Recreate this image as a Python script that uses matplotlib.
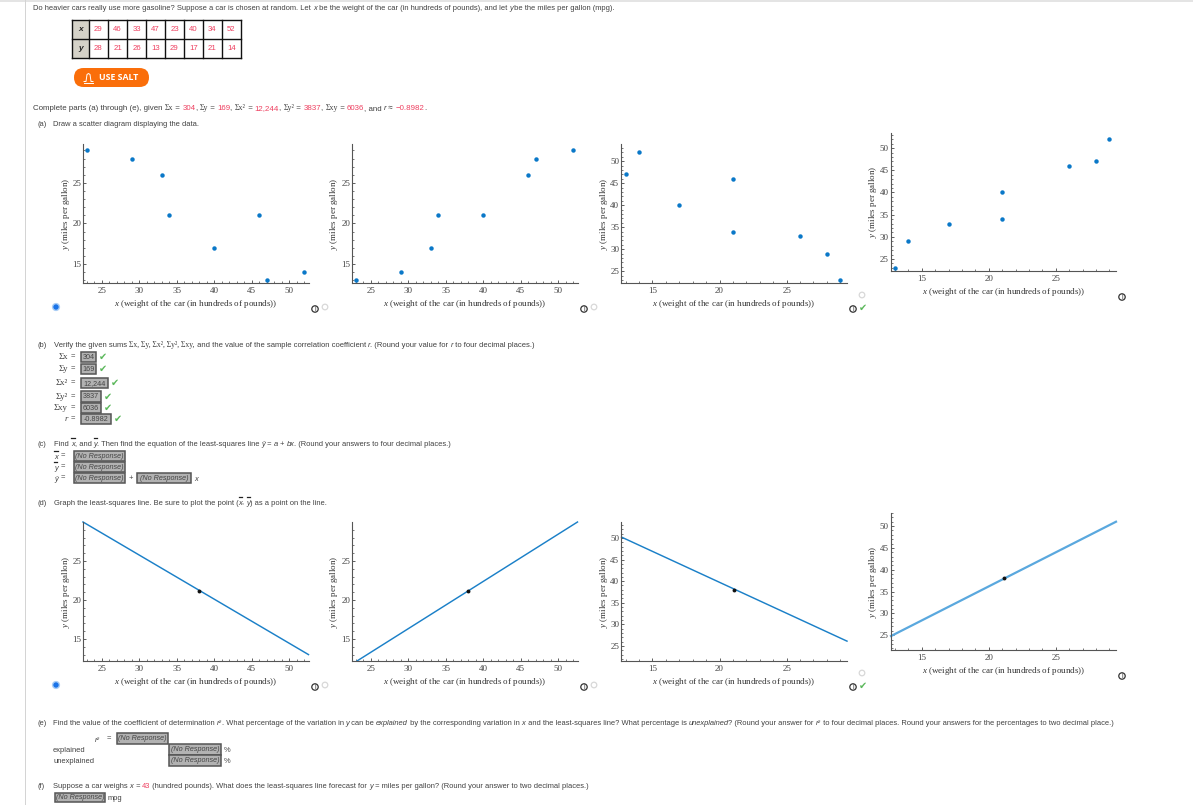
import matplotlib
matplotlib.use("Agg")
import matplotlib.pyplot as plt
from matplotlib.patches import Circle, FancyBboxPatch, Rectangle
from matplotlib.ticker import MultipleLocator

plt.rcParams["font.family"] = ["Liberation Sans", "DejaVu Sans"]
plt.rcParams["mathtext.fontset"] = "custom"
plt.rcParams["mathtext.rm"] = "Liberation Serif"
plt.rcParams["mathtext.it"] = "Liberation Serif:italic"

# data
table_x = [29, 46, 33, 47, 23, 40, 34, 52]
table_y = [28, 21, 26, 13, 29, 17, 21, 14]

scatter1_x = [29, 46, 33, 47, 23, 40, 34, 52]
scatter1_y = [28, 21, 26, 13, 29, 17, 21, 14]
scatter2_x = [29, 33, 34, 40, 46, 47, 23, 52]
scatter2_y = [14, 17, 21, 21, 26, 28, 13, 29]
scatter3_x = [13, 14, 17, 21, 21, 26, 28, 29]
scatter3_y = [47, 52, 40, 46, 34, 33, 29, 23]
scatter4_x = [13, 14, 17, 21, 21, 26, 28, 29]
scatter4_y = [23, 29, 33, 34, 40, 46, 47, 52]

line1_x = [22.5, 52.6]
line1_y = [29.99, 13.0]
line2_x = [23.2, 52.6]
line2_y = [12.2, 29.99]
line3_x = [12.7, 29.5]
line3_y = [50.2, 26.1]
line4_x = [12.7, 29.5]
line4_y = [24.8, 51.0]
mean_wt = 38.0
mean_mpg = 21.1

W, H = 1193, 805
TEXT = "#404040"
RED = "#ee4060"
BLUE = "#0a78c8"
GREEN = "#5cb85c"
BODY = 5.37
XLABEL = r"$\mathit{x}$ (weight of the car (in hundreds of pounds))"
YLABEL = r"$\mathit{y}$ (miles per gallon)"

fig = plt.figure(figsize=(W / 100, H / 100), dpi=100, facecolor="white")
page = fig.add_axes([0, 0, 1, 1])
page.set_xlim(0, W)
page.set_ylim(H, 0)
page.axis("off")
renderer = fig.canvas.get_renderer()

STYLES = {
    "n": dict(color=TEXT),
    "i": dict(color=TEXT, style="italic"),
    "r": dict(color=RED),
    "s": dict(color=TEXT, family="Liberation Serif"),
}


def text_width(s, size, st):
    t = page.text(0, 0, s + ".", fontsize=size, **st)
    d = page.text(0, 0, ".", fontsize=size, **st)
    w = t.get_window_extent(renderer).width - d.get_window_extent(renderer).width
    t.remove()
    d.remove()
    return w


def rich(x, y, parts, size=BODY):
    for s, kind in parts:
        bar = kind == "b"
        st = STYLES["i"] if bar else STYLES[kind]
        page.text(x, y + 2.5, s, fontsize=size, va="baseline", **st)
        w = text_width(s, size, st)
        if bar:
            page.plot([x, x + w], [y - 5, y - 5], color="#222222", lw=0.9)
        x += w


def answer_box(x0, x1, y0, y1, s, italic=False):
    page.add_patch(Rectangle((x0, y0), x1 - x0, y1 - y0, fc="#b2b2b2", ec="#555555", lw=1.1))
    page.text((x0 + x1) / 2, (y0 + y1) / 2 + 0.3, s, fontsize=5.2, color="#444444",
              ha="center", va="center", style="italic" if italic else "normal")


def check(x, y):
    page.text(x, y, "\u2714", fontsize=7, color=GREEN, ha="center", va="center", family="DejaVu Sans")


def info(x, y):
    page.add_patch(Circle((x, y), 3.2, fc="white", ec="#333333", lw=0.9))
    page.text(x, y + 0.3, "i", fontsize=4.8, color="#333333", ha="center", va="center")


def radio(x, y, selected=False):
    if selected:
        page.add_patch(Circle((x, y), 3.4, fc="#1a73e8", ec="#a9cdf5", lw=1.0))
    else:
        page.add_patch(Circle((x, y), 2.8, fc="white", ec="#d8d8d8", lw=0.9))


def panel(left, right, top, bottom, xlim, ylim):
    ax = fig.add_axes([left / W, 1 - bottom / H, (right - left) / W, (bottom - top) / H])
    ax.patch.set_alpha(0)
    ax.set_xlim(xlim)
    ax.set_ylim(ylim)
    ax.spines["top"].set_visible(False)
    ax.spines["right"].set_visible(False)
    for side in ["left", "bottom"]:
        ax.spines[side].set_color("#555555")
        ax.spines[side].set_linewidth(0.8)
    ax.xaxis.set_major_locator(MultipleLocator(5))
    ax.xaxis.set_minor_locator(MultipleLocator(1))
    ax.yaxis.set_major_locator(MultipleLocator(5))
    ax.yaxis.set_minor_locator(MultipleLocator(1))
    ax.tick_params(which="major", direction="in", length=2.4, width=0.6, color="#444444",
                   labelsize=6.5, labelcolor="#444444", pad=3)
    ax.tick_params(axis="y", which="major", pad=1.2)
    ax.tick_params(which="minor", direction="in", length=1.2, width=0.5, color="#444444")
    for lab in ax.get_xticklabels() + ax.get_yticklabels():
        lab.set_family("Liberation Serif")
    ax.set_xlabel(XLABEL, fontsize=6.5, color="#333333", family="Liberation Serif")
    ax.set_ylabel(YLABEL, fontsize=6.5, color="#333333", family="Liberation Serif")
    ax.xaxis.set_label_coords(0.5, -15.0 / (bottom - top))
    ax.yaxis.set_label_coords(-11.5 / (right - left), 0.5)
    return ax


def scatter_panel(left, right, top, bottom, xlim, ylim, xs, ys):
    ax = panel(left, right, top, bottom, xlim, ylim)
    ax.plot(xs, ys, "o", color=BLUE, ms=3.2, mew=0, clip_on=False)


def line_panel(left, right, top, bottom, xlim, ylim, xs, ys, mx, my, color="#1b80c8", lw=1.05):
    ax = panel(left, right, top, bottom, xlim, ylim)
    ax.plot(xs, ys, color=color, lw=lw, clip_on=False)
    ax.plot([mx], [my], "o", color="#111111", ms=2.8, mew=0)


# page frame
page.add_patch(Rectangle((0, 0), W, 2, fc="#e4e4e4", ec="none"))
page.add_patch(Rectangle((24.5, 0), 1.2, H, fc="#d4d4d4", ec="none"))

# intro
rich(33, 7, [("Do heavier cars really use more gasoline? Suppose a car is chosen at random. Let ", "n"), ("x", "i"),
             (" be the weight of the car (in hundreds of pounds), and let ", "n"), ("y", "i"),
             (" be the miles per gallon (mpg).", "n")])

# data table
col_edges = [72, 89, 108, 127, 146, 165, 184, 203, 222, 241]
row_edges = [20, 39, 58]
page.add_patch(Rectangle((72, 20), 17, 38, fc="#d5d2c8", ec="none"))
for e in col_edges:
    page.plot([e, e], [20, 58], color="#111111", lw=1.0)
for e in row_edges:
    page.plot([72, 241], [e, e], color="#111111", lw=1.0)
for r, (name, vals) in enumerate([("x", table_x), ("y", table_y)]):
    yc = (row_edges[r] + row_edges[r + 1]) / 2
    page.text(80.5, yc, name, fontsize=6, color="#222222", style="italic", weight="bold", ha="center", va="center")
    for c, v in enumerate(vals):
        page.text((col_edges[c + 1] + col_edges[c + 2]) / 2, yc, str(v), fontsize=5.6, color=RED,
                  ha="center", va="center")

# salt button
page.add_patch(FancyBboxPatch((74, 68), 75, 19, boxstyle="round,pad=0,rounding_size=9.5",
                              fc="#fa6e0a", ec="none"))
page.plot([84, 86, 87, 88.5, 90, 91, 93], [81.5, 81.5, 74.5, 73.5, 74.5, 81.5, 81.5], color="white", lw=0.7)
page.plot([84, 93], [83, 83], color="white", lw=0.7)
page.text(99, 78, "USE SALT", fontsize=6.3, color="white", weight="bold", va="center", family="Open Sans")

rich(33, 108, [("Complete parts (a) through (e), given ", "n"), ("\u03a3x", "s"), (" = ", "n"), ("304", "r"),
               (", ", "n"), ("\u03a3y", "s"), (" = ", "n"), ("169", "r"), (", ", "n"), ("\u03a3x\u00b2", "s"),
               (" = ", "n"), ("12,244", "r"), (", ", "n"), ("\u03a3y\u00b2", "s"), (" = ", "n"), ("3837", "r"),
               (", ", "n"), ("\u03a3xy", "s"), (" = ", "n"), ("6036", "r"), (", and ", "n"), ("r", "i"),
               (" \u2248 ", "n"), ("\u22120.8982", "r"), (".", "n")], size=5.65)
rich(37, 124, [("(a)", "n")])
rich(53, 124, [("Draw a scatter diagram displaying the data.", "n")])

# part (a) graphs
scatter_panel(83, 308.5, 144, 283, (22.5, 52.6), (12.65, 29.8), scatter1_x, scatter1_y)
scatter_panel(352, 577.5, 144, 283, (22.5, 52.6), (12.65, 29.8), scatter2_x, scatter2_y)
scatter_panel(621, 847, 144, 283, (12.66, 29.5), (22.3, 53.9), scatter3_x, scatter3_y)
scatter_panel(890.5, 1116, 133, 271, (12.66, 29.5), (22.3, 53.4), scatter4_x, scatter4_y)

radio(56, 307, True)
radio(325, 307)
radio(594, 307)
radio(862, 295)
info(315, 309)
info(584, 309)
info(853, 309)
info(1122, 297)
check(863, 308)

# part (b)
rich(37, 344, [("(b)", "n")])
rich(54, 344, [("Verify the given sums ", "n"), ("\u03a3x, \u03a3y, \u03a3x\u00b2, \u03a3y\u00b2, \u03a3xy,", "s"),
               (" and the value of the sample correlation coefficient ", "n"), ("r", "i"),
               (". (Round your value for ", "n"), ("r", "i"), (" to four decimal places.)", "n")], size=5.5)
sum_labels = ["\u03a3x", "\u03a3y", "\u03a3x\u00b2", "\u03a3y\u00b2", "\u03a3xy", "r"]
sum_values = ["304", "169", "12,244", "3837", "6036", "-0.8982"]
sum_rights = [96, 96, 108, 100.5, 100.5, 111]
sum_tops = [352, 364, 378, 391, 403, 414]
sum_bots = [362, 374, 388, 402, 413, 424]
for lab, val, r, t, b in zip(sum_labels, sum_values, sum_rights, sum_tops, sum_bots):
    yc = (t + b) / 2
    page.text(68, yc, lab, fontsize=6.3, color=TEXT, ha="right", va="center", family="Liberation Serif",
              style="italic" if lab == "r" else "normal")
    page.text(73, yc, "=", fontsize=5.5, color=TEXT, ha="center", va="center")
    answer_box(81, r, t, b, val)
    check(r + 7, yc)

# part (c)
rich(37, 443, [("(c)", "n")])
rich(54, 443, [("Find ", "n"), ("x", "b"), (", and ", "n"), ("y", "b"),
               (". Then find the equation of the least-squares line ", "n"), ("\u0177", "i"), (" = ", "n"), ("a", "i"),
               (" + ", "n"), ("bx", "i"), (". (Round your answers to four decimal places.)", "n")])
rich(54, 456, [("x", "b")])
rich(54, 467, [("y", "b")])
rich(54, 478, [("\u0177", "i")])
for yc in [456, 467, 478]:
    page.text(63, yc, "=", fontsize=5.5, color=TEXT, ha="center", va="center")
answer_box(73.5, 125, 451, 461, "(No Response)", True)
answer_box(73.5, 125, 462, 472, "(No Response)", True)
answer_box(73.5, 125, 473, 483, "(No Response)", True)
page.text(131, 478, "+", fontsize=5.5, color=TEXT, ha="center", va="center")
answer_box(137, 191, 473, 483, "(No Response)", True)
rich(194, 478, [("x", "i")])

# part (d)
rich(37, 502, [("(d)", "n")])
rich(54, 502, [("Graph the least-squares line. Be sure to plot the point (", "n"), ("x", "b"), (", ", "n"), ("y", "b"),
               (") as a point on the line.", "n")])

line_panel(83, 308.5, 522, 661, (22.5, 52.6), (12.18, 29.99), line1_x, line1_y, mean_wt, mean_mpg)
line_panel(352, 577.5, 522, 661, (22.5, 52.6), (12.18, 29.99), line2_x, line2_y, mean_wt, mean_mpg)
line_panel(621, 847, 522, 661, (12.66, 29.5), (21.5, 53.7), line3_x, line3_y, mean_mpg, mean_wt)
line_panel(890.5, 1116, 513, 650, (12.66, 29.5), (21.6, 53.0), line4_x, line4_y, mean_mpg, mean_wt,
           color="#5aa8de", lw=1.6)

radio(56, 685, True)
radio(325, 685)
radio(594, 685)
radio(862, 673)
info(315, 687)
info(584, 687)
info(853, 687)
info(1122, 676)
check(863, 686)

# part (e)
rich(37, 722, [("(e)", "n")])
rich(53, 722, [("Find the value of the coefficient of determination ", "n"), ("r\u00b2", "i"),
               (". What percentage of the variation in ", "n"), ("y", "i"), (" can be ", "n"), ("explained", "i"),
               (" by the corresponding variation in ", "n"), ("x", "i"),
               (" and the least-squares line? What percentage is ", "n"), ("unexplained", "i"),
               ("? (Round your answer for ", "n"), ("r\u00b2", "i"),
               (" to four decimal places. Round your answers for the percentages to two decimal place.)", "n")],
     size=5.38)
rich(95, 739, [("r\u00b2", "i")])
page.text(109, 739, "=", fontsize=5.5, color=TEXT, ha="center", va="center")
answer_box(117, 168, 733, 744, "(No Response)", True)
rich(53, 749, [("explained", "n")])
rich(53, 760, [("unexplained", "n")])
answer_box(169, 221, 744, 755, "(No Response)", True)
answer_box(169, 221, 755, 766, "(No Response)", True)
rich(224, 749, [("%", "n")])
rich(224, 760, [("%", "n")])

# part (f)
rich(37, 785, [("(f)", "n")])
rich(53, 785, [("Suppose a car weighs ", "n"), ("x", "i"), (" = ", "n"), ("43", "r"),
               (" (hundred pounds). What does the least-squares line forecast for ", "n"), ("y", "i"),
               (" = miles per gallon? (Round your answer to two decimal places.)", "n")])
answer_box(54.5, 105, 793, 802, "(No Response)", True)
rich(108, 797.5, [("mpg", "n")])

fig.savefig("out.png", dpi=100)
